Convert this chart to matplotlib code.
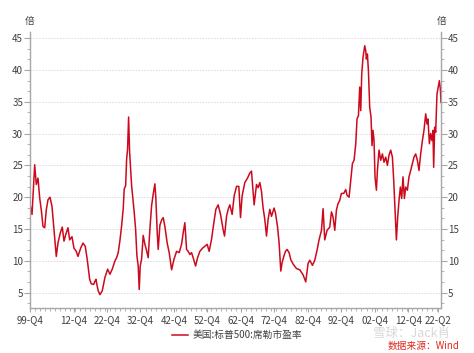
import numpy as np
import matplotlib
matplotlib.use("Agg")
from matplotlib import pyplot as plt
from matplotlib.ticker import AutoMinorLocator, FixedLocator

plt.rcParams['font.family'] = ['Noto Sans CJK SC', 'DejaVu Sans']

# region data
years = [
    1899.75, 1900.35, 1901.15, 1901.63, 1902.14, 1902.64, 1903.12, 1903.63, 1904.14, 1904.61,
    1905.12, 1905.72, 1906.31, 1906.91, 1907.60, 1908.10, 1908.80, 1909.39, 1909.90, 1910.40,
    1911.09, 1911.60, 1912.28, 1912.88, 1913.57, 1914.07, 1914.88, 1915.57, 1916.25, 1916.85,
    1917.57, 1918.04, 1918.76, 1919.15, 1919.45, 1919.83, 1920.13, 1920.64, 1921.33, 1922.13,
    1922.94, 1923.62, 1924.31, 1925.12, 1925.62, 1926.10, 1926.61, 1927.11, 1927.59, 1927.89,
    1928.31, 1928.61, 1928.90, 1929.20, 1929.50, 1929.80, 1930.10, 1930.58, 1930.88, 1931.29,
    1931.68, 1932.07, 1932.37, 1932.67, 1933.08, 1933.56, 1934.07, 1934.58, 1935.05, 1935.56,
    1936.07, 1936.55, 1937.05, 1937.35, 1937.74, 1938.04, 1938.54, 1939.05, 1939.53, 1940.04,
    1940.72, 1941.32, 1942.04, 1942.72, 1943.53, 1944.30, 1945.02, 1945.50, 1946.00, 1946.51,
    1946.99, 1947.50, 1948.00, 1948.48, 1949.20, 1949.80, 1950.48, 1951.29, 1951.97, 1952.66,
    1953.26, 1953.97, 1954.66, 1955.26, 1955.94, 1956.66, 1957.43, 1957.85, 1958.45, 1958.93,
    1959.43, 1960.12, 1960.72, 1961.43, 1962.12, 1962.62, 1963.10, 1963.91, 1964.71, 1965.40,
    1965.90, 1966.39, 1966.69, 1967.40, 1967.88, 1968.39, 1968.89, 1969.37, 1969.88, 1970.39,
    1970.86, 1971.37, 1971.88, 1972.65, 1973.07, 1973.67, 1974.15, 1974.65, 1975.04, 1975.55,
    1976.06, 1976.53, 1977.13, 1977.64, 1978.33, 1979.33, 1980.32, 1981.31, 1982.11, 1982.80,
    1983.31, 1984.11, 1984.80, 1985.49, 1986.08, 1986.80, 1987.28, 1987.78, 1988.47, 1989.27,
    1989.78, 1990.26, 1990.77, 1991.27, 1991.75, 1992.26, 1992.76, 1993.45, 1994.05, 1994.44,
    1995.04, 1995.54, 1996.05, 1996.53, 1997.04, 1997.42, 1997.84, 1998.23, 1998.53, 1998.83,
    1999.22, 1999.72, 2000.02, 2000.22, 2000.52, 2000.82, 2001.21, 2001.60, 2001.90, 2002.20,
    2002.50, 2002.79, 2003.21, 2003.51, 2003.99, 2004.50, 2005.00, 2005.48, 2005.99, 2006.49,
    2006.97, 2007.48, 2007.99, 2008.37, 2008.77, 2009.18, 2009.57, 2009.96, 2010.37, 2010.76,
    2011.15, 2011.57, 2011.95, 2012.46, 2012.94, 2013.45, 2013.95, 2014.43, 2014.94, 2015.45,
    2015.93, 2016.43, 2016.94, 2017.42, 2017.93, 2018.31, 2018.61, 2019.03, 2019.42, 2019.80,
    2020.10, 2020.31, 2020.61, 2020.91, 2021.30, 2021.72, 2022.01, 2022.31, 2022.50,
]
cape = [
    18.9, 17.3, 25.1, 22.0, 23.0, 19.9, 18.0, 15.4, 15.2, 18.0,
    19.6, 20.0, 18.6, 14.9, 10.7, 12.8, 14.4, 15.3, 13.1, 14.1,
    15.2, 13.3, 13.8, 12.0, 11.5, 10.7, 12.0, 12.8, 12.3, 10.2,
    7.1, 6.4, 6.3, 6.8, 7.1, 6.0, 5.3, 4.7, 5.3, 7.4,
    8.7, 7.9, 8.7, 10.0, 10.5, 11.3, 13.2, 15.5, 18.2, 21.3,
    21.8, 26.0, 27.6, 32.6, 27.1, 24.5, 21.8, 19.2, 17.6, 15.0,
    10.8, 9.2, 5.5, 9.2, 10.3, 14.0, 12.6, 11.6, 10.5, 15.0,
    18.7, 20.5, 22.1, 19.7, 14.5, 11.8, 15.6, 16.4, 16.8, 15.4,
    12.8, 11.3, 8.6, 10.2, 11.5, 11.3, 12.6, 14.4, 16.0, 11.8,
    11.5, 11.0, 11.3, 10.5, 9.2, 10.5, 11.5, 12.0, 12.3, 12.6,
    11.5, 13.4, 16.0, 18.1, 18.8, 17.3, 14.9, 13.9, 17.0, 18.1,
    18.8, 17.3, 20.2, 21.7, 21.7, 16.8, 20.2, 22.3, 23.0, 23.8,
    24.1, 20.7, 18.8, 22.0, 21.5, 22.3, 20.9, 18.3, 16.5, 13.9,
    16.5, 18.1, 17.0, 18.3, 17.5, 15.4, 12.8, 8.4, 9.7, 10.7,
    11.5, 11.8, 11.3, 10.2, 9.5, 8.8, 8.6, 7.8, 6.7, 9.6,
    10.1, 9.3, 10.1, 11.7, 13.3, 14.8, 18.2, 13.3, 14.8, 15.3,
    17.7, 16.9, 14.8, 18.0, 19.0, 19.5, 20.6, 20.6, 21.2, 20.3,
    20.0, 22.6, 25.3, 25.8, 28.4, 32.3, 32.8, 37.3, 33.6, 39.4,
    42.0, 43.8, 43.0, 41.7, 42.5, 39.9, 34.1, 32.6, 28.1, 30.5,
    28.9, 23.2, 21.1, 24.2, 27.4, 25.8, 26.8, 25.5, 26.3, 25.0,
    26.6, 27.4, 26.3, 22.7, 18.0, 13.3, 16.9, 19.5, 21.6, 19.8,
    23.2, 19.8, 21.6, 21.1, 23.2, 24.2, 25.3, 26.3, 26.8, 25.8,
    24.2, 26.8, 28.9, 30.5, 33.1, 31.5, 32.3, 28.4, 30.0, 28.9,
    30.5, 24.7, 31.0, 30.2, 36.2, 37.5, 38.3, 37.0, 34.9,
]
tickYears = [1899.75, 1912.75, 1922.75, 1932.75, 1942.75, 1952.75, 1962.75,
             1972.75, 1982.75, 1992.75, 2002.75, 2012.75, 2021.75]
tickLabels = ['99-Q4', '12-Q4', '22-Q4', '32-Q4', '42-Q4', '52-Q4', '62-Q4',
              '72-Q4', '82-Q4', '92-Q4', '02-Q4', '12-Q4', '22-Q2']
seriesName = '美国:标普500:席勒市盈率'
# endregion

lineColor = '#cc0a1e'
axisColor = '#a6a6a6'
textColor = '#404040'

fig = plt.figure(figsize=(4.74, 3.53), dpi=100)
ax = fig.add_axes([30 / 474, 1 - 308 / 353, 411 / 474, (308 - 31.7) / 353])

ax.plot(years, cape, color=lineColor, lw=1.1, label=seriesName)
ax.set_xlim(1899.75, 2022.5)
ax.set_ylim(2.6, 46)

# y axis: labels on both sides
ax.set_yticks(np.arange(5, 46, 5))
ax.yaxis.set_minor_locator(AutoMinorLocator(3))
ax.tick_params(axis='y', which='both', left=True, right=True, labelleft=True,
               labelright=True, direction='out', color=axisColor,
               labelsize=7, labelcolor=textColor, pad=1)
ax.tick_params(axis='y', which='major', length=4)
ax.tick_params(axis='y', which='minor', length=2.5)
ax.grid(axis='y', which='major', color='#d9d9d9', linestyle=(0, (1.5, 1.5)), lw=0.7)

# x axis
ax.set_xticks(tickYears)
ax.set_xticklabels(tickLabels)
ax.xaxis.set_minor_locator(FixedLocator(np.arange(1899.75, 2022.6, 1.5)))
ax.tick_params(axis='x', which='both', direction='out', color=axisColor,
               labelsize=7, labelcolor=textColor, pad=2)
ax.tick_params(axis='x', which='major', length=3)
ax.tick_params(axis='x', which='minor', length=2.5)

for side in ['left', 'right', 'bottom']:
    ax.spines[side].set_color(axisColor)
    ax.spines[side].set_linewidth(1.0)
ax.spines['top'].set_visible(False)

fig.text(30 / 474, 1 - 21 / 353, '倍', ha='center', va='center', fontsize=7, color=textColor)
fig.text(442 / 474, 1 - 21 / 353, '倍', ha='center', va='center', fontsize=7, color=textColor)

fig.legend(loc='center', bbox_to_anchor=(0.5, 1 - 335 / 353), frameon=False,
           fontsize=7, handlelength=1.6, handletextpad=0.5, labelcolor=textColor)

fig.text(412 / 474, 1 - 333 / 353, '雪球：Jack肖', ha='center', va='center',
         fontsize=9, color='#d8d8d8')
fig.text(424 / 474, 1 - 346 / 353, '数据来源：Wind', ha='center', va='center',
         fontsize=7, color='#e0281e')

fig.savefig('out.png', dpi=100)
